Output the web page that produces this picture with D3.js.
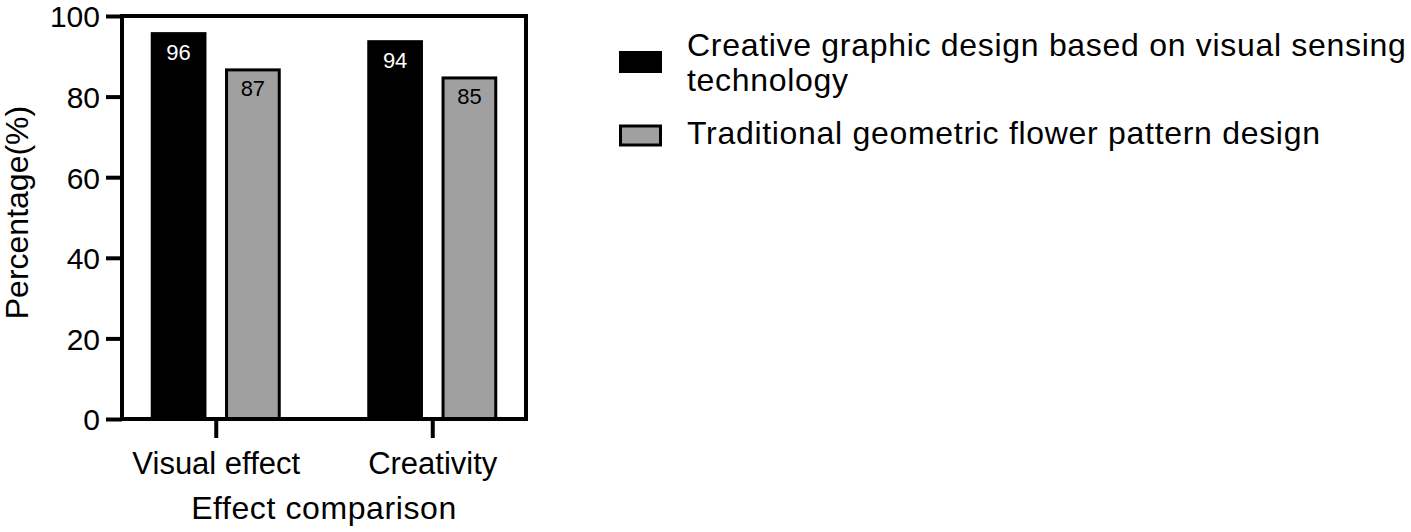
<!DOCTYPE html>
<html>
<head>
<meta charset="utf-8">
<script src="https://cdn.jsdelivr.net/npm/d3@7"></script>
<style>
  html, body { margin: 0; padding: 0; background: #fff; }
  svg { display: block; font-family: "Liberation Sans", Arial, Helvetica, sans-serif; }
</style>
</head>
<body>
<svg id="chart" width="1411" height="532"></svg>
<script>
// data
const categories = ["Visual effect", "Creativity"];
const seriesKeys = ["visual", "traditional"];
const visualSensingValues = [96, 94];
const traditionalValues = [87, 85];
const yTicks = [0, 20, 40, 60, 80, 100];
const legendLines = [
  ["Creative graphic design based on visual sensing", "technology"],
  ["Traditional geometric flower pattern design"]
];
const seriesColors = ["#000000", "#a0a0a0"];

const xTitle = "Effect comparison";
const yTitle = "Percentage(%)";

const svg = d3.select("#chart");

const plot = { left: 122, right: 526, top: 16, bottom: 419 };

const y = d3.scaleLinear().domain([0, 100]).range([plot.bottom, plot.top]);
const x = d3.scalePoint().domain(categories).range([plot.left, plot.right]).padding(0.433);
const xSub = d3.scaleBand().domain(seriesKeys).range([-65, 65]).paddingInner(0.25);

const rows = categories.map((c, i) => ({
  category: c,
  values: [visualSensingValues[i], traditionalValues[i]]
}));

// frame (top + right)
svg.append("path")
  .attr("d", `M${plot.left},${plot.top}H${plot.right}V${plot.bottom}`)
  .attr("fill", "none")
  .attr("stroke", "#000")
  .attr("stroke-width", 4);

// bars
const groups = svg.selectAll("g.cat")
  .data(rows)
  .enter()
  .append("g")
  .attr("class", "cat")
  .attr("transform", (d) => `translate(${x(d.category)},0)`);

groups.selectAll("rect")
  .data((d) => d.values.map((v, j) => ({ key: seriesKeys[j], value: v, j })))
  .enter()
  .append("rect")
  .attr("x", (d) => xSub(d.key) + (d.j ? 1.5 : 0))
  .attr("y", (d) => y(d.value) + (d.j ? 1.5 : 0))
  .attr("width", (d) => xSub.bandwidth() - (d.j ? 3 : 0))
  .attr("height", (d) => plot.bottom - y(d.value) - (d.j ? 1.5 : 0))
  .attr("fill", (d) => seriesColors[d.j])
  .attr("stroke", (d) => (d.j ? "#000" : "none"))
  .attr("stroke-width", 3);

groups.selectAll("text")
  .data((d) => d.values.map((v, j) => ({ key: seriesKeys[j], value: v, j })))
  .enter()
  .append("text")
  .attr("x", (d) => xSub(d.key) + xSub.bandwidth() / 2)
  .attr("y", (d) => y(d.value) + 28)
  .attr("text-anchor", "middle")
  .attr("font-size", 22)
  .attr("fill", (d) => (d.j ? "#000" : "#fff"))
  .text((d) => d.value);

// y axis
const yAxis = svg.append("g")
  .attr("transform", `translate(${plot.left},0)`)
  .call(d3.axisLeft(y).tickValues(yTicks).tickSize(16).tickSizeOuter(0).tickPadding(6));
yAxis.select(".domain").attr("stroke-width", 4).attr("d", `M0,${plot.top - 2}V${plot.bottom + 2}`);
yAxis.selectAll(".tick line").attr("stroke-width", 4);
yAxis.selectAll(".tick text")
  .attr("font-size", 30)
  .attr("font-family", "Liberation Sans, Arial, sans-serif")
  .attr("fill", "#000")
  .attr("dy", "0.36em");

// x axis
const xAxis = svg.append("g")
  .attr("transform", `translate(0,${plot.bottom})`)
  .call(d3.axisBottom(x).tickSize(19).tickSizeOuter(0).tickPadding(14));
xAxis.select(".domain").attr("stroke-width", 4).attr("d", `M${plot.left - 2},0H${plot.right + 2}`);
xAxis.selectAll(".tick line").attr("stroke-width", 4);
xAxis.selectAll(".tick text")
  .attr("font-size", 31)
  .attr("font-family", "Liberation Sans, Arial, sans-serif")
  .attr("fill", "#000");

// axis titles
svg.append("text")
  .attr("x", (plot.left + plot.right) / 2)
  .attr("y", 519)
  .attr("text-anchor", "middle")
  .attr("font-size", 32)
  .attr("letter-spacing", 0.6)
  .text(xTitle);

svg.append("text")
  .attr("transform", `translate(28,${(plot.top + plot.bottom) / 2 - 5}) rotate(-90)`)
  .attr("text-anchor", "middle")
  .attr("font-size", 32)
  .text(yTitle);

// legend
const legend = svg.append("g");
const legendY = [62, 135.5];
const legendBase = [56, 144];
legendLines.forEach((lines, i) => {
  legend.append("rect")
    .attr("x", 619 + (i ? 1.5 : 0))
    .attr("y", legendY[i] - 11 + (i ? 1.5 : 0))
    .attr("width", 43 - (i ? 3 : 0))
    .attr("height", 22 - (i ? 3 : 0))
    .attr("fill", seriesColors[i])
    .attr("stroke", i ? "#000" : "none")
    .attr("stroke-width", 3);
  const t = legend.append("text")
    .attr("x", 687)
    .attr("y", legendBase[i])
    .attr("font-size", 32)
    .attr("letter-spacing", 0.7);
  lines.forEach((ln, k) => {
    t.append("tspan")
      .attr("x", 687)
      .attr("dy", k ? 35 : 0)
      .text(ln);
  });
});
</script>
</body>
</html>
